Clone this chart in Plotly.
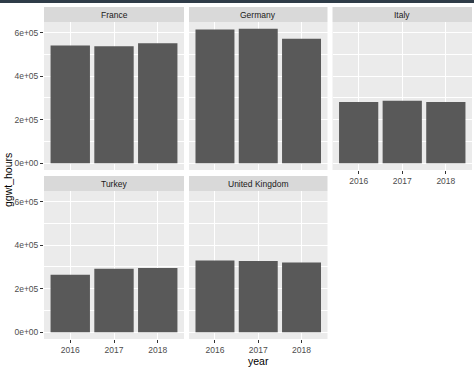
import plotly.graph_objects as go

W, H = 474, 369

countries = ["France", "Germany", "Italy", "Turkey", "United Kingdom"]
years = ["2016", "2017", "2018"]
france = [541000, 538000, 551000]
germany = [615000, 618000, 572000]
italy = [282000, 287000, 282000]
turkey = [264000, 292000, 295000]
uk = [330000, 327000, 320000]
values = [france, germany, italy, turkey, uk]

y_tickvals = [0, 200000, 400000, 600000]
y_ticktext = ["0e+00", "2e+05", "4e+05", "6e+05"]
y_minor = [100000, 300000, 500000]

# panel pixel boxes (x0, x1, y0_top, y1_bottom)
cols = [(44, 184), (189, 327.5), (332.5, 472)]
rows = [(22, 170), (191, 339)]
strip_h = 15

def px_x(v):
    return v / W

def px_y(v):
    return 1 - v / H

fig = go.Figure()
layout = dict(
    width=W, height=H,
    margin=dict(l=0, r=0, t=0, b=0),
    paper_bgcolor="white", plot_bgcolor="#EBEBEB",
    showlegend=False, bargap=0.1,
    font=dict(family="Liberation Sans, Arial, sans-serif", color="#4D4D4D", size=8.5),
)
shapes = []
annotations = []

for i, (name, vals) in enumerate(zip(countries, values)):
    r, c = divmod(i, 3)
    x0, x1 = cols[c]
    yt, yb = rows[r]
    xa = "xaxis" if i == 0 else f"xaxis{i+1}"
    ya = "yaxis" if i == 0 else f"yaxis{i+1}"
    xr = "x" if i == 0 else f"x{i+1}"
    yr = "y" if i == 0 else f"y{i+1}"
    fig.add_trace(go.Bar(x=years, y=vals, xaxis=xr, yaxis=yr,
                         marker=dict(color="#595959", line=dict(width=0)),
                         hoverinfo="x+y"))
    show_x = (i >= 2)
    layout[xa] = dict(
        domain=[px_x(x0), px_x(x1)], anchor=yr,
        type="category", range=[-0.6, 2.6],
        showgrid=True, gridcolor="white", gridwidth=1.1,
        zeroline=False, showline=False,
        ticks="outside" if show_x else "", ticklen=3, tickcolor="#333333", tickwidth=1,
        showticklabels=show_x, tickfont=dict(size=8.5, color="#4D4D4D"),
        fixedrange=True,
    )
    show_y = (c == 0)
    layout[ya] = dict(
        domain=[px_y(yb), px_y(yt)], anchor=xr,
        range=[-31000, 649000],
        tickmode="array", tickvals=y_tickvals, ticktext=y_ticktext,
        showgrid=True, gridcolor="white", gridwidth=1.1,
        minor=dict(tickmode="array", tickvals=y_minor, showgrid=True,
                   gridcolor="white", gridwidth=0.55, ticks=""),
        zeroline=False, showline=False,
        ticks="outside" if show_y else "", ticklen=3, tickcolor="#333333", tickwidth=1,
        showticklabels=show_y, tickfont=dict(size=8.5, color="#4D4D4D"),
        fixedrange=True,
    )
    # strip
    shapes.append(dict(type="rect", xref="paper", yref="paper",
                       x0=px_x(x0), x1=px_x(x1), y0=px_y(yt), y1=px_y(yt - strip_h),
                       fillcolor="#D9D9D9", line=dict(width=0), layer="above"))
    annotations.append(dict(text=name, xref="paper", yref="paper",
                            x=px_x((x0 + x1) / 2), y=px_y(yt - strip_h / 2),
                            showarrow=False, xanchor="center", yanchor="middle",
                            font=dict(size=8.5, color="#1A1A1A")))

# dark band at the top of the screenshot
shapes.append(dict(type="rect", xref="paper", yref="paper",
                   x0=0, x1=1, y0=px_y(3), y1=1,
                   fillcolor="#2F3C48", line=dict(width=0), layer="above"))

annotations.append(dict(text="year", xref="paper", yref="paper",
                        x=px_x(258), y=px_y(361), showarrow=False,
                        xanchor="center", yanchor="middle",
                        font=dict(size=10.5, color="black")))
annotations.append(dict(text="ggwt_hours", xref="paper", yref="paper",
                        x=px_x(8), y=px_y(180), showarrow=False, textangle=-90,
                        xanchor="center", yanchor="middle",
                        font=dict(size=10.5, color="black")))

layout["shapes"] = shapes
layout["annotations"] = annotations
fig.update_layout(**layout)
fig.write_html("out.html",
               config={"displayModeBar": False},
               post_script="document.body.style.margin='0';document.body.style.overflow='hidden';")
